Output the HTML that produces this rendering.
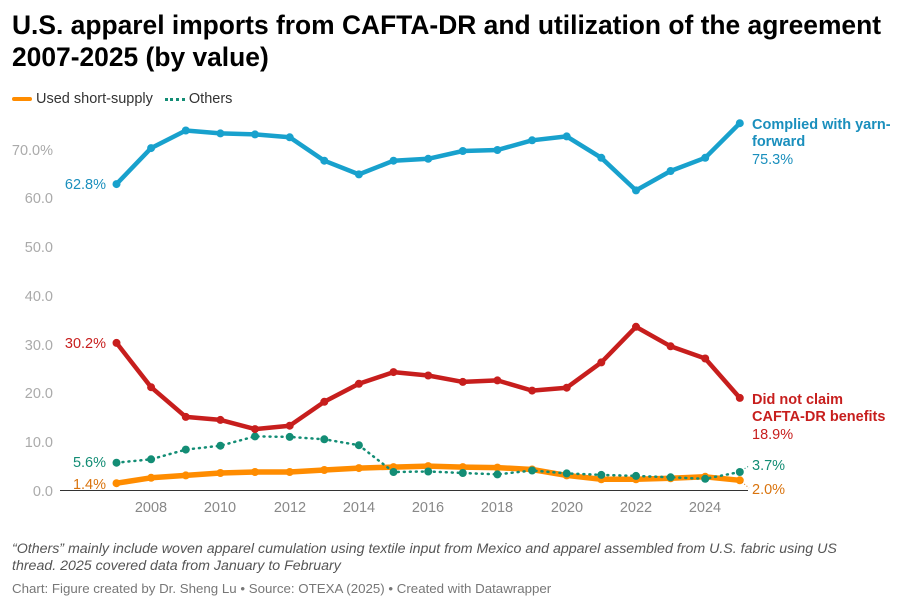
<!DOCTYPE html>
<html><head><meta charset="utf-8"><style>
body{margin:0;background:#fff;font-family:"Liberation Sans",sans-serif;}
.wrap{position:relative;width:900px;height:611px;overflow:hidden;}
h1{position:absolute;left:12px;top:9px;margin:0;font-size:26.4px;line-height:32px;font-weight:bold;color:#000;width:885px;}
.leg{position:absolute;top:91px;left:12px;font-size:14.5px;color:#333;}
.note{position:absolute;left:12px;top:541px;font-size:14.2px;line-height:17px;color:#555;font-style:italic;width:855px;}
.src{position:absolute;left:12px;top:581px;font-size:13.3px;color:#777;}
</style></head><body><div class="wrap">
<h1>U.S. apparel imports from CAFTA-DR and utilization of the agreement 2007-2025 (by value)</h1>
<div class="leg"><span style="display:inline-block;width:20px;height:4px;background:#ff8c00;border-radius:2px;vertical-align:middle;margin-right:4px"></span>Used short-supply <span style="display:inline-block;width:20px;border-top:3px dotted #138d75;vertical-align:middle;margin:0 4px 0 8px"></span>Others</div>
<svg width="900" height="611" style="position:absolute;left:0;top:0" font-family="Liberation Sans, sans-serif">
<g font-size="14.5" fill="#aaa" text-anchor="end">
<text x="53" y="155">70.0%</text><text x="53" y="203">60.0</text><text x="53" y="252">50.0</text><text x="53" y="301">40.0</text><text x="53" y="350">30.0</text><text x="53" y="398">20.0</text><text x="53" y="447">10.0</text><text x="53" y="496">0.0</text>
</g>
<line x1="60" y1="490.5" x2="748" y2="490.5" stroke="#333" stroke-width="1"/>
<g font-size="14.5" fill="#888" text-anchor="middle">
<text x="151" y="512">2008</text><text x="220" y="512">2010</text><text x="290" y="512">2012</text><text x="359" y="512">2014</text><text x="428" y="512">2016</text><text x="497" y="512">2018</text><text x="567" y="512">2020</text><text x="636" y="512">2022</text><text x="705" y="512">2024</text>
</g>
<g fill="none" stroke-linejoin="round" stroke-linecap="round">
<polyline stroke="#ff8c00" stroke-width="5.5" points="116.5,483.2 151.1,477.8 185.8,475.4 220.4,473.0 255.0,472.0 289.7,472.0 324.3,470.0 358.9,468.1 393.5,467.1 428.2,466.1 462.8,467.1 497.4,467.6 532.1,469.5 566.7,475.4 601.3,479.3 636.0,479.3 670.6,478.3 705.2,476.8 739.8,480.3"/>
<polyline stroke="#138d75" stroke-width="2.5" stroke-dasharray="1 5" points="116.5,462.7 151.1,459.3 185.8,449.6 220.4,445.7 255.0,436.4 289.7,436.9 324.3,439.3 358.9,445.2 393.5,472.0 428.2,471.5 462.8,473.0 497.4,474.4 532.1,470.5 566.7,473.4 601.3,474.9 636.0,475.9 670.6,477.3 705.2,478.8 739.8,472.0"/>
<polyline stroke="#c71e1d" stroke-width="4.5" points="116.5,342.9 151.1,387.2 185.8,416.9 220.4,419.9 255.0,429.1 289.7,425.7 324.3,401.8 358.9,383.8 393.5,372.1 428.2,375.5 462.8,381.9 497.4,380.4 532.1,390.6 566.7,387.7 601.3,362.4 636.0,326.8 670.6,346.3 705.2,358.5 739.8,397.9"/>
<polyline stroke="#18a1cd" stroke-width="4.5" points="116.5,184.1 151.1,148.1 185.8,130.5 220.4,133.4 255.0,134.4 289.7,137.3 324.3,160.7 358.9,174.4 393.5,160.7 428.2,158.8 462.8,151.0 497.4,150.0 532.1,140.3 566.7,136.4 601.3,157.8 636.0,190.4 670.6,171.0 705.2,157.8 739.8,123.2"/>
</g>
<g fill="#ff8c00"><circle cx="116.5" cy="483.2" r="4"/><circle cx="151.1" cy="477.8" r="4"/><circle cx="185.8" cy="475.4" r="4"/><circle cx="220.4" cy="473" r="4"/><circle cx="255" cy="472" r="4"/><circle cx="289.7" cy="472" r="4"/><circle cx="324.3" cy="470" r="4"/><circle cx="358.9" cy="468.1" r="4"/><circle cx="393.5" cy="467.1" r="4"/><circle cx="428.2" cy="466.1" r="4"/><circle cx="462.8" cy="467.1" r="4"/><circle cx="497.4" cy="467.6" r="4"/><circle cx="532.1" cy="469.5" r="4"/><circle cx="566.7" cy="475.4" r="4"/><circle cx="601.3" cy="479.3" r="4"/><circle cx="636" cy="479.3" r="4"/><circle cx="670.6" cy="478.3" r="4"/><circle cx="705.2" cy="476.8" r="4"/><circle cx="739.8" cy="480.3" r="4"/></g>
<g fill="#138d75"><circle cx="116.5" cy="462.7" r="4"/><circle cx="151.1" cy="459.3" r="4"/><circle cx="185.8" cy="449.6" r="4"/><circle cx="220.4" cy="445.7" r="4"/><circle cx="255" cy="436.4" r="4"/><circle cx="289.7" cy="436.9" r="4"/><circle cx="324.3" cy="439.3" r="4"/><circle cx="358.9" cy="445.2" r="4"/><circle cx="393.5" cy="472" r="4"/><circle cx="428.2" cy="471.5" r="4"/><circle cx="462.8" cy="473" r="4"/><circle cx="497.4" cy="474.4" r="4"/><circle cx="532.1" cy="470.5" r="4"/><circle cx="566.7" cy="473.4" r="4"/><circle cx="601.3" cy="474.9" r="4"/><circle cx="636" cy="475.9" r="4"/><circle cx="670.6" cy="477.3" r="4"/><circle cx="705.2" cy="478.8" r="4"/><circle cx="739.8" cy="472" r="4"/></g>
<g fill="#c71e1d"><circle cx="116.5" cy="342.9" r="4"/><circle cx="151.1" cy="387.2" r="4"/><circle cx="185.8" cy="416.9" r="4"/><circle cx="220.4" cy="419.9" r="4"/><circle cx="255" cy="429.1" r="4"/><circle cx="289.7" cy="425.7" r="4"/><circle cx="324.3" cy="401.8" r="4"/><circle cx="358.9" cy="383.8" r="4"/><circle cx="393.5" cy="372.1" r="4"/><circle cx="428.2" cy="375.5" r="4"/><circle cx="462.8" cy="381.9" r="4"/><circle cx="497.4" cy="380.4" r="4"/><circle cx="532.1" cy="390.6" r="4"/><circle cx="566.7" cy="387.7" r="4"/><circle cx="601.3" cy="362.4" r="4"/><circle cx="636" cy="326.8" r="4"/><circle cx="670.6" cy="346.3" r="4"/><circle cx="705.2" cy="358.5" r="4"/><circle cx="739.8" cy="397.9" r="4"/></g>
<g fill="#18a1cd"><circle cx="116.5" cy="184.1" r="4"/><circle cx="151.1" cy="148.1" r="4"/><circle cx="185.8" cy="130.5" r="4"/><circle cx="220.4" cy="133.4" r="4"/><circle cx="255" cy="134.4" r="4"/><circle cx="289.7" cy="137.3" r="4"/><circle cx="324.3" cy="160.7" r="4"/><circle cx="358.9" cy="174.4" r="4"/><circle cx="393.5" cy="160.7" r="4"/><circle cx="428.2" cy="158.8" r="4"/><circle cx="462.8" cy="151" r="4"/><circle cx="497.4" cy="150" r="4"/><circle cx="532.1" cy="140.3" r="4"/><circle cx="566.7" cy="136.4" r="4"/><circle cx="601.3" cy="157.8" r="4"/><circle cx="636" cy="190.4" r="4"/><circle cx="670.6" cy="171" r="4"/><circle cx="705.2" cy="157.8" r="4"/><circle cx="739.8" cy="123.2" r="4"/></g>
<g font-size="14.5" text-anchor="end">
<text x="106" y="189" fill="#1a8fbd">62.8%</text>
<text x="106" y="348" fill="#c71e1d">30.2%</text>
<text x="106" y="467" fill="#138d75">5.6%</text>
<text x="106" y="489" fill="#d9730d">1.4%</text>
</g>
<g font-size="14.5">
<text x="752" y="129" fill="#1a8fbd" font-weight="bold">Complied with yarn-</text>
<text x="752" y="146" fill="#1a8fbd" font-weight="bold">forward</text>
<text x="752" y="164" fill="#1a8fbd">75.3%</text>
<text x="752" y="404" fill="#c71e1d" font-weight="bold">Did not claim</text>
<text x="752" y="421" fill="#c71e1d" font-weight="bold">CAFTA-DR benefits</text>
<text x="752" y="439" fill="#c71e1d">18.9%</text>
<text x="752" y="470" fill="#138d75">3.7%</text>
<text x="752" y="494" fill="#d9730d">2.0%</text>
</g>
<line x1="742" y1="470" x2="749" y2="466" stroke="#138d75" stroke-dasharray="1 2"/>
<line x1="742" y1="482" x2="749" y2="488" stroke="#d9730d" stroke-dasharray="1 2"/>
</svg>
<div class="note">“Others” mainly include woven apparel cumulation using textile input from Mexico and apparel assembled from U.S. fabric using US thread. 2025 covered data from January to February</div>
<div class="src">Chart: Figure created by Dr. Sheng Lu • Source: OTEXA (2025) • Created with Datawrapper</div>
</div></body></html>
